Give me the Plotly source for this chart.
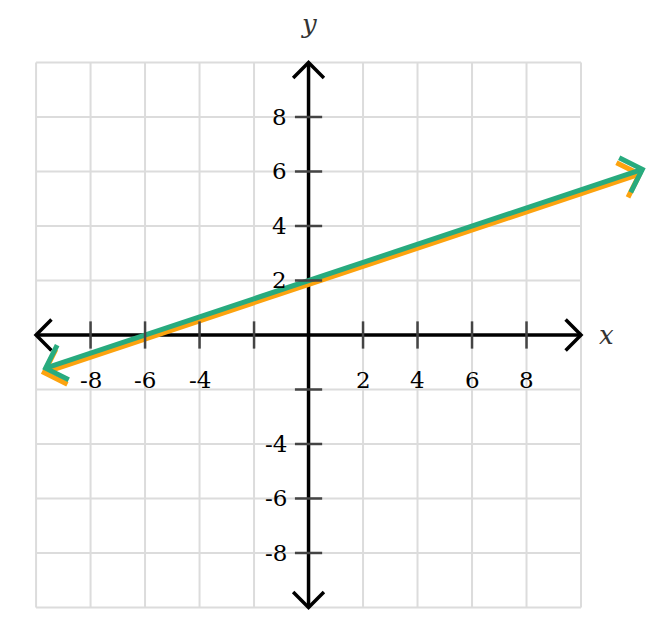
import numpy as np
import plotly.graph_objects as go

# data
grid_vals = list(range(-10, 11, 2))
tick_vals = [-8, -6, -4, -2, 2, 4, 6, 8]
x_tick_labels = ["-8", "-6", "-4", "", "2", "4", "6", "8"]
y_label_vals = [8, 6, 4, 2, -4, -6, -8]
y_label_text = ["8", "6", "4", "2", "-4", "-6", "-8"]

green_x = [-9.65, 12.25]
green_y = [-1.22, 6.08]
orange_x = [-9.7, 12.15]
orange_y = [-1.38, 5.9]

GREEN = "#28ab7e"
ORANGE = "#fca30f"
FONT = "DejaVu Serif"


def chevron(tip_x, tip_y, from_x, from_y, size=0.85, angle=45):
    # open arrow head, arms going back from the tip
    d = np.array([from_x - tip_x, from_y - tip_y], dtype=float)
    d = d / np.hypot(*d)
    pts = []
    for a in (angle, -angle):
        r = np.radians(a)
        rot = np.array([d[0] * np.cos(r) - d[1] * np.sin(r),
                        d[0] * np.sin(r) + d[1] * np.cos(r)])
        pts.append((tip_x + size * rot[0], tip_y + size * rot[1]))
    return [pts[0][0], tip_x, pts[1][0]], [pts[0][1], tip_y, pts[1][1]]


fig = go.Figure()

# grid
for g in grid_vals:
    fig.add_shape(type="line", x0=g, x1=g, y0=-10, y1=10,
                  line=dict(color="#dcdcdc", width=2), layer="below")
    fig.add_shape(type="line", x0=-10, x1=10, y0=g, y1=g,
                  line=dict(color="#dcdcdc", width=2), layer="below")

# tick marks
for t in tick_vals:
    fig.add_shape(type="line", x0=t, x1=t, y0=-0.5, y1=0.5,
                  line=dict(color="#444444", width=2.5))
    fig.add_shape(type="line", x0=-0.5, x1=0.5, y0=t, y1=t,
                  line=dict(color="#444444", width=2.5))

# axes with arrow heads
axis_style = dict(color="black", width=3.5)
fig.add_trace(go.Scatter(x=[-10, 10], y=[0, 0], mode="lines", line=axis_style))
fig.add_trace(go.Scatter(x=[0, 0], y=[-10, 10], mode="lines", line=axis_style))
for tx, ty in [(10, 0), (-10, 0), (0, 10), (0, -10)]:
    cx, cy = chevron(tx, ty, 0, 0, size=0.8)
    fig.add_trace(go.Scatter(x=cx, y=cy, mode="lines", line=axis_style))

# the two lines
for xs, ys, col in [(orange_x, orange_y, ORANGE), (green_x, green_y, GREEN)]:
    fig.add_trace(go.Scatter(x=xs, y=ys, mode="lines",
                             line=dict(color=col, width=5)))
    for i, j in [(0, 1), (1, 0)]:
        cx, cy = chevron(xs[i], ys[i], xs[j], ys[j], size=0.95)
        fig.add_trace(go.Scatter(x=cx, y=cy, mode="lines",
                                 line=dict(color=col, width=5)))

# tick labels
for t, lab in zip(tick_vals, x_tick_labels):
    if lab:
        fig.add_annotation(x=t, y=-1.65, text=lab, showarrow=False,
                           font=dict(family=FONT, size=23, color="black"))
for t, lab in zip(y_label_vals, y_label_text):
    fig.add_annotation(x=-0.72, y=t, text=lab, showarrow=False, xanchor="right",
                       font=dict(family=FONT, size=23, color="black"))

# axis names
fig.add_annotation(x=10.95, y=0, text="<i>x</i>", showarrow=False,
                   font=dict(family=FONT, size=26, color="#333333"))
fig.add_annotation(x=0, y=11.4, text="<i>y</i>", showarrow=False,
                   font=dict(family=FONT, size=26, color="#333333"))

fig.update_layout(
    width=668,
    height=630,
    margin=dict(l=0, r=0, t=0, b=0),
    plot_bgcolor="white",
    paper_bgcolor="white",
    showlegend=False,
    xaxis=dict(range=[-11.03, 13.486], visible=False, fixedrange=True),
    yaxis=dict(range=[-11.12, 12.0], visible=False, fixedrange=True),
)

fig.write_html("out.html")
